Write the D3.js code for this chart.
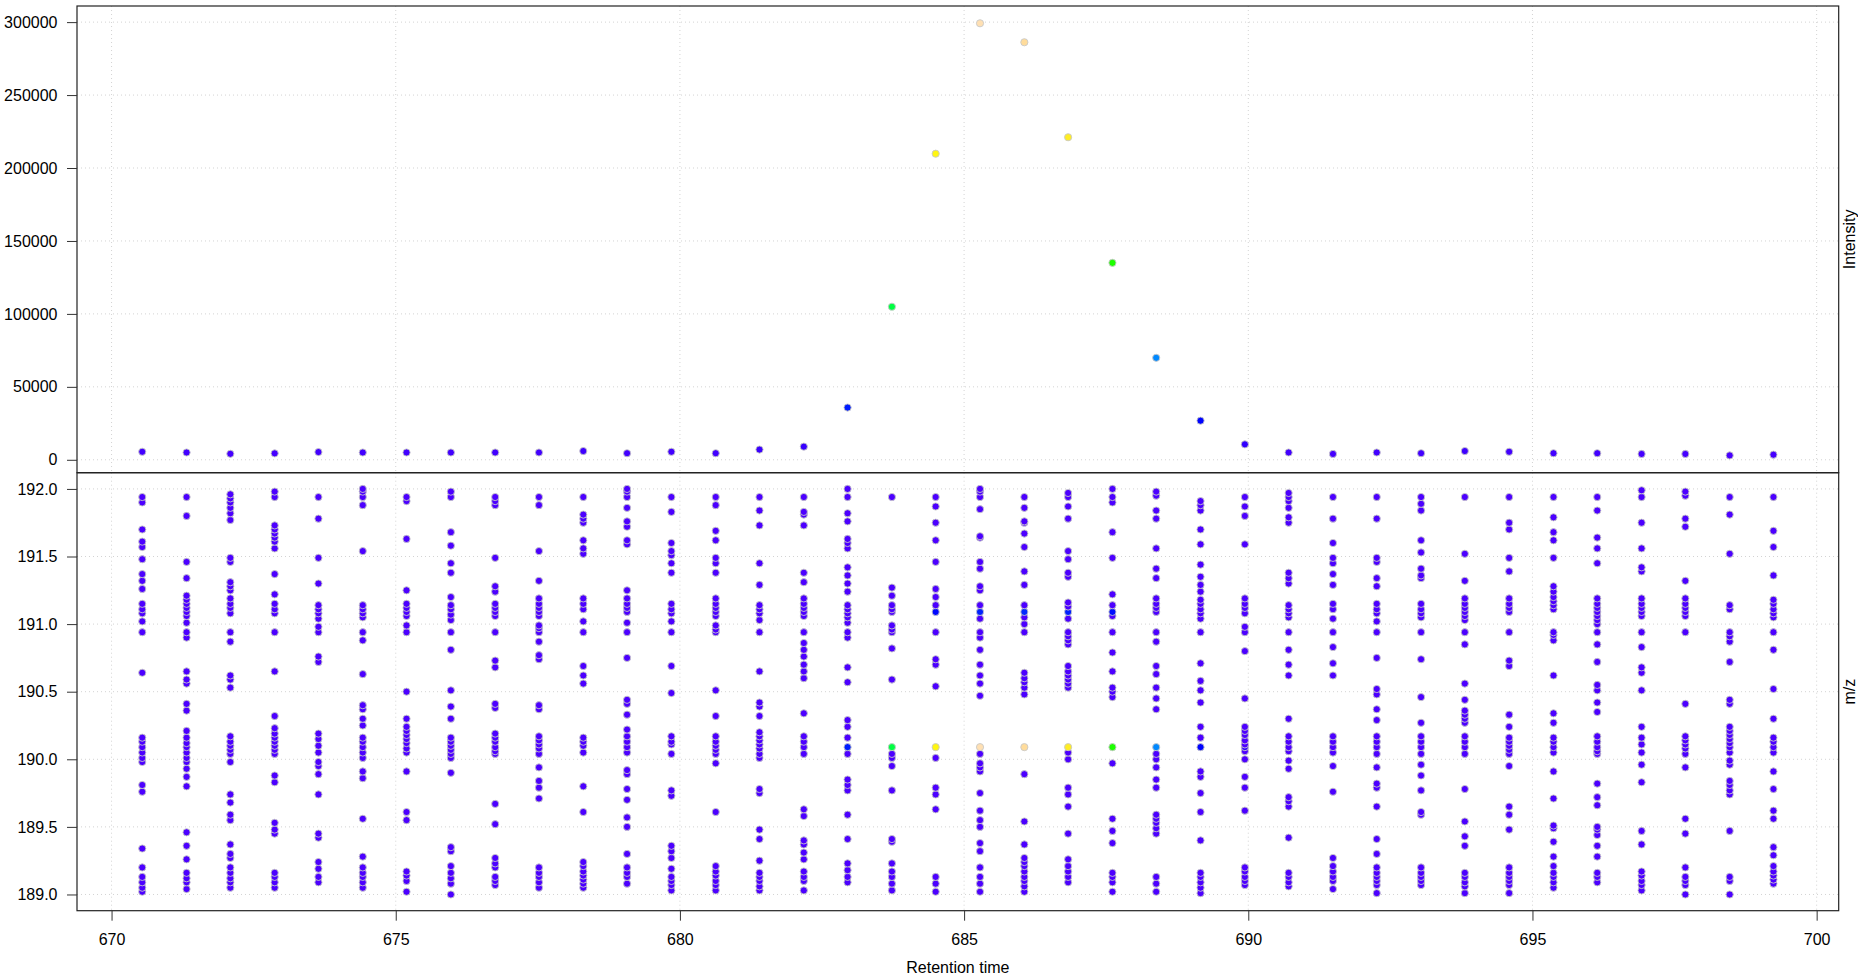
<!DOCTYPE html>
<html><head><meta charset="utf-8">
<script src="https://cdn.jsdelivr.net/npm/d3@7"></script>
<style>
body{margin:0;background:#fff}
text{font-family:"Liberation Sans",Arial,Helvetica,sans-serif;}
</style>
</head><body>
<svg id="chart" width="1858" height="978"></svg>
<script>
// ---------- DATA ----------
const rt = [670.54,671.32,672.09,672.87,673.64,674.42,675.19,675.97,676.75,677.52,678.30,679.07,679.85,680.63,681.40,682.18,682.95,683.73,684.50,685.28,686.06,686.83,687.61,688.38,689.16,689.94,690.71,691.49,692.26,693.04,693.81,694.59,695.37,696.14,696.92,697.69,698.47,699.24];

// base peak intensity per scan (upper panel)
const bpi = [5500,5000,4100,4400,5300,5000,5000,5000,5000,5000,6000,4500,5500,4500,7000,9000,35800,104900,209800,299200,286200,221100,135000,69900,26800,10600,5000,4000,5000,4500,6000,5500,4500,4500,4000,4000,3000,3500];

// peaks that stand out in colour in the lower panel
const peakScans = [16,17,18,19,20,21,22,23,24,25];
const peakMz    = [190.09,190.09,190.09,190.09,190.09,190.09,190.09,190.09,190.09,190.09];
const peakInt   = [35800,104900,209800,299200,286200,221100,135000,69900,26800,10600];
const secondScans = [18,19,20,21,22];
const secondMz    = [191.09,191.09,191.09,191.09,191.09];
const secondInt   = [28000,38000,40000,36000,31000];
// intensity of all remaining (low) peaks
const lowIntensity = 1000;

// m/z of the remaining peaks in each scan
const mzByScan = [
[191.94,191.90,191.70,191.61,191.57,191.48,191.37,191.32,191.26,191.15,191.11,191.08,191.02,190.94,190.64,190.16,190.13,190.09,190.05,190.01,189.98,189.81,189.76,189.34,189.20,189.13,189.09,189.05,189.02],
[191.94,191.80,191.46,191.34,191.21,191.18,191.15,191.12,191.09,191.06,191.01,190.94,190.90,190.65,190.59,190.56,190.41,190.36,190.21,190.16,190.12,190.09,190.05,190.01,189.98,189.93,189.87,189.80,189.46,189.36,189.26,189.16,189.12,189.09,189.04],
[191.96,191.93,191.90,191.86,191.82,191.77,191.49,191.46,191.31,191.28,191.25,191.19,191.15,191.12,191.08,190.94,190.87,190.62,190.59,190.53,190.17,190.13,190.10,190.07,190.04,189.98,189.74,189.68,189.59,189.55,189.37,189.30,189.27,189.20,189.16,189.12,189.09,189.05],
[191.98,191.94,191.73,191.70,191.67,191.64,191.61,191.56,191.37,191.22,191.15,191.11,191.08,190.94,190.65,190.32,190.23,190.19,190.16,190.13,190.10,190.07,190.04,189.88,189.83,189.53,189.48,189.45,189.16,189.13,189.09,189.05],
[191.94,191.78,191.49,191.30,191.14,191.11,191.08,191.04,190.98,190.94,190.76,190.72,190.19,190.15,190.10,190.05,189.98,189.95,189.89,189.74,189.45,189.42,189.24,189.19,189.13,189.09],
[192.00,191.98,191.94,191.88,191.54,191.14,191.11,191.08,191.05,190.94,190.88,190.63,190.40,190.37,190.30,190.25,190.16,190.13,190.09,190.05,190.01,189.91,189.86,189.56,189.28,189.20,189.16,189.13,189.09,189.05],
[191.94,191.91,191.63,191.25,191.15,191.12,191.09,191.06,190.99,190.94,190.50,190.30,190.24,190.21,190.18,190.15,190.12,190.08,190.05,189.91,189.61,189.55,189.17,189.14,189.10,189.02],
[191.98,191.94,191.68,191.58,191.45,191.38,191.20,191.14,191.11,191.07,191.03,190.94,190.81,190.51,190.39,190.30,190.16,190.13,190.10,190.07,190.04,190.01,189.90,189.35,189.32,189.21,189.16,189.12,189.08,189.00],
[191.94,191.91,191.88,191.49,191.28,191.24,191.15,191.12,191.09,191.06,190.94,190.73,190.68,190.41,190.38,190.19,190.16,190.13,190.09,190.06,190.04,189.67,189.52,189.27,189.23,189.20,189.13,189.10,189.07],
[191.94,191.88,191.54,191.32,191.19,191.15,191.12,191.09,191.06,190.99,190.97,190.94,190.87,190.77,190.74,190.40,190.37,190.17,190.14,190.11,190.08,190.04,189.94,189.84,189.79,189.71,189.20,189.16,189.13,189.09,189.05],
[191.94,191.81,191.78,191.75,191.62,191.56,191.52,191.19,191.15,191.11,191.02,190.94,190.69,190.62,190.56,190.16,190.13,190.10,190.05,189.80,189.61,189.24,189.21,189.17,189.14,189.11,189.08,189.05],
[192.00,191.98,191.94,191.86,191.76,191.72,191.62,191.59,191.25,191.19,191.15,191.12,191.09,191.01,190.94,190.75,190.44,190.41,190.33,190.22,190.17,190.13,190.09,190.05,189.92,189.89,189.78,189.70,189.57,189.50,189.30,189.20,189.16,189.13,189.08],
[191.94,191.83,191.60,191.54,191.51,191.45,191.38,191.15,191.11,191.08,191.02,190.94,190.69,190.49,190.17,190.13,190.11,190.04,189.77,189.73,189.36,189.32,189.27,189.19,189.13,189.10,189.07,189.03],
[191.94,191.88,191.69,191.62,191.49,191.45,191.38,191.19,191.15,191.12,191.09,191.06,190.99,190.96,190.94,190.51,190.32,190.17,190.13,190.10,190.07,190.04,189.97,189.61,189.21,189.17,189.14,189.10,189.07,189.03],
[191.94,191.84,191.73,191.45,191.29,191.14,191.11,191.08,191.03,190.94,190.65,190.42,190.39,190.32,190.20,190.17,190.14,190.11,190.08,190.04,190.01,189.78,189.75,189.48,189.41,189.25,189.16,189.13,189.10,189.06,189.03],
[191.94,191.83,191.81,191.73,191.38,191.31,191.19,191.15,191.12,191.09,191.06,190.94,190.86,190.81,190.76,190.70,190.65,190.60,190.34,190.17,190.13,190.09,190.04,189.63,189.58,189.40,189.37,189.31,189.26,189.17,189.13,189.10,189.03],
[192.00,191.94,191.82,191.76,191.63,191.60,191.56,191.42,191.36,191.30,191.24,191.14,191.11,191.08,191.05,191.01,190.94,190.90,190.68,190.57,190.29,190.24,190.16,190.04,189.85,189.81,189.77,189.59,189.41,189.23,189.18,189.13,189.09],
[191.94,191.27,191.21,191.14,191.11,191.09,190.99,190.96,190.94,190.82,190.59,190.04,190.01,189.95,189.77,189.41,189.39,189.23,189.17,189.13,189.08,189.03],
[191.94,191.87,191.75,191.62,191.46,191.26,191.20,191.14,190.94,190.74,190.70,190.54,190.01,189.79,189.74,189.63,189.13,189.08,189.02],
[192.00,191.98,191.94,191.85,191.65,191.64,191.46,191.41,191.28,191.25,191.14,191.04,190.94,190.90,190.81,190.70,190.62,190.56,190.47,190.04,189.97,189.94,189.91,189.75,189.62,189.55,189.50,189.38,189.32,189.20,189.13,189.08,189.02],
[191.94,191.86,191.76,191.75,191.67,191.57,191.39,191.29,191.14,191.05,191.00,190.94,190.64,190.60,190.57,190.53,190.48,189.89,189.54,189.37,189.27,189.24,189.21,189.17,189.13,189.10,189.06,189.02],
[191.97,191.94,191.87,191.78,191.54,191.48,191.38,191.35,191.16,191.13,191.04,190.94,190.91,190.88,190.85,190.69,190.65,190.62,190.59,190.56,190.53,190.05,190.00,189.79,189.74,189.65,189.45,189.26,189.21,189.17,189.13,189.09],
[192.00,191.94,191.90,191.68,191.49,191.22,191.14,191.06,190.94,190.79,190.65,190.53,190.50,190.46,189.97,189.56,189.47,189.38,189.16,189.13,189.09,189.02],
[191.98,191.95,191.84,191.78,191.56,191.41,191.34,191.19,191.15,191.12,191.09,190.94,190.87,190.69,190.63,190.53,190.45,190.37,190.04,190.00,189.94,189.85,189.79,189.59,189.56,189.53,189.49,189.45,189.13,189.08,189.02],
[191.91,191.88,191.84,191.70,191.59,191.44,191.35,191.29,191.24,191.18,191.15,191.11,191.08,191.04,190.94,190.71,190.58,190.51,190.42,190.24,190.16,189.91,189.87,189.75,189.61,189.40,189.16,189.13,189.09,189.05,189.01],
[191.94,191.87,191.80,191.59,191.19,191.15,191.12,191.08,190.98,190.94,190.80,190.45,190.24,190.21,190.18,190.14,190.11,190.06,190.00,189.87,189.79,189.62,189.20,189.17,189.13,189.10,189.07],
[191.97,191.94,191.91,191.86,191.79,191.75,191.38,191.34,191.30,191.14,191.11,191.08,191.05,190.94,190.81,190.70,190.62,190.30,190.17,190.13,190.09,190.06,189.99,189.93,189.72,189.69,189.65,189.42,189.16,189.13,189.09,189.06],
[191.94,191.78,191.60,191.49,191.45,191.37,191.29,191.15,191.11,191.04,190.94,190.83,190.71,190.62,190.17,190.13,190.09,190.05,189.95,189.76,189.27,189.21,189.17,189.13,189.10,189.04],
[191.94,191.78,191.49,191.46,191.34,191.28,191.15,191.11,191.08,191.02,190.94,190.75,190.52,190.48,190.37,190.29,190.17,190.13,190.09,190.04,189.94,189.82,189.79,189.65,189.41,189.30,189.20,189.16,189.13,189.10,189.07,189.01],
[191.94,191.89,191.84,191.62,191.53,191.41,191.36,191.34,191.15,191.11,191.08,191.05,190.94,190.74,190.46,190.27,190.17,190.13,190.09,190.04,189.96,189.88,189.77,189.61,189.59,189.20,189.16,189.13,189.10,189.07],
[191.94,191.52,191.32,191.19,191.15,191.12,191.09,191.06,191.03,190.94,190.85,190.56,190.44,190.36,190.33,190.30,190.27,190.17,190.13,190.09,190.04,189.78,189.54,189.43,189.36,189.16,189.13,189.09,189.06,189.01],
[191.94,191.75,191.70,191.49,191.39,191.19,191.15,191.12,191.09,190.94,190.73,190.69,190.33,190.24,190.16,190.13,190.10,190.07,190.04,189.95,189.65,189.59,189.48,189.20,189.16,189.13,189.10,189.07,189.01],
[191.94,191.79,191.68,191.62,191.49,191.28,191.24,191.20,191.17,191.14,191.11,190.94,190.92,190.88,190.62,190.34,190.27,190.16,190.13,190.09,190.05,189.91,189.71,189.51,189.49,189.39,189.28,189.21,189.16,189.13,189.09,189.05],
[191.94,191.84,191.64,191.56,191.45,191.19,191.15,191.12,191.09,191.06,191.03,191.00,190.94,190.85,190.72,190.55,190.51,190.42,190.35,190.17,190.13,190.09,190.06,190.04,189.82,189.72,189.66,189.50,189.48,189.44,189.36,189.28,189.16,189.13,189.09],
[191.99,191.94,191.75,191.56,191.42,191.39,191.19,191.15,191.12,191.09,191.06,190.94,190.83,190.68,190.64,190.51,190.24,190.16,190.11,190.05,189.96,189.83,189.47,189.37,189.17,189.14,189.10,189.07,189.03],
[191.98,191.95,191.78,191.72,191.32,191.19,191.15,191.12,191.09,191.06,190.94,190.41,190.17,190.14,190.11,190.08,190.04,189.94,189.56,189.45,189.20,189.13,189.10,189.07,189.00],
[191.94,191.81,191.52,191.14,191.11,190.94,190.91,190.87,190.72,190.44,190.41,190.24,190.21,190.18,190.15,190.12,190.09,190.05,189.99,189.96,189.84,189.81,189.77,189.74,189.47,189.13,189.10,189.00],
[191.94,191.69,191.57,191.36,191.18,191.15,191.11,191.08,191.05,190.94,190.81,190.52,190.30,190.16,190.13,190.09,190.05,189.91,189.78,189.62,189.56,189.35,189.29,189.21,189.17,189.14,189.11,189.08]
];

const xTicks = [670,675,680,685,690,695,700];
const intTicks = [0,50000,100000,150000,200000,250000,300000];
const mzTicks = [189.0,189.5,190.0,190.5,191.0,191.5,192.0];

// ---------- BUILD POINTS ----------
const points = [];
mzByScan.forEach((arr, s) => arr.forEach(mz => points.push({rt: rt[s], mz, i: lowIntensity})));
peakScans.forEach((s, k) => points.push({rt: rt[s], mz: peakMz[k], i: peakInt[k]}));
secondScans.forEach((s, k) => points.push({rt: rt[s], mz: secondMz[k], i: secondInt[k]}));
points.sort((a, b) => a.rt - b.rt || a.mz - b.mz);

// ---------- COLOURS (R topo.colors(256)) ----------
function hsv(h, s, v) {
  const i = Math.floor(h * 6), f = h * 6 - i;
  const p = v * (1 - s), q = v * (1 - f * s), t = v * (1 - (1 - f) * s);
  let r, g, b;
  switch (((i % 6) + 6) % 6) {
    case 0: r = v; g = t; b = p; break;
    case 1: r = q; g = v; b = p; break;
    case 2: r = p; g = v; b = t; break;
    case 3: r = p; g = q; b = v; break;
    case 4: r = t; g = p; b = v; break;
    default: r = v; g = p; b = q;
  }
  return d3.rgb(r * 255, g * 255, b * 255).formatHex();
}
function seq(a, b, n) { return d3.range(n).map(k => n === 1 ? a : a + (b - a) * k / (n - 1)); }
function topo(n) {
  const j = Math.floor(n / 3), k = Math.floor(n / 3), i = n - j - k;
  const out = [];
  seq(43/60, 31/60, i).forEach(h => out.push(hsv(h, 1, 1)));
  seq(23/60, 11/60, j).forEach(h => out.push(hsv(h, 1, 1)));
  const ss = seq(1, 0.3, k);
  seq(10/60, 6/60, k).forEach((h, q) => out.push(hsv(h, ss[q], 1)));
  return out;
}
const pal = topo(256);
const allI = points.map(p => p.i).concat(bpi);
const iMin = d3.min(allI), iMax = d3.max(allI);
function colOf(v) {
  let idx = Math.floor((v - iMin) / (iMax - iMin) * 256);
  idx = Math.max(0, Math.min(255, idx));
  return pal[idx];
}

// ---------- LAYOUT ----------
const L = 77, R = 1838.7, T1 = 6, B1 = 472.7, B2 = 910.7;
function pad(e) { const r = e[1] - e[0]; return [e[0] - 0.04 * r, e[1] + 0.04 * r]; }
const x = d3.scaleLinear().domain(pad(d3.extent(rt))).range([L, R]);
const y1 = d3.scaleLinear().domain(pad(d3.extent(bpi))).range([B1, T1]);
const y2 = d3.scaleLinear().domain(pad(d3.extent(points, p => p.mz))).range([B2, B1]);

const svg = d3.select("#chart");
const FS = 16;

function gridAndPoints(g, yScale, yTicks, top, bottom, data, yAcc) {
  const grid = g.append("g").attr("stroke", "#d3d3d3").attr("stroke-width", 1)
    .attr("stroke-dasharray", "1,3").attr("fill", "none");
  xTicks.forEach(t => grid.append("line").attr("x1", x(t)).attr("x2", x(t)).attr("y1", top).attr("y2", bottom));
  yTicks.forEach(t => grid.append("line").attr("x1", L).attr("x2", R).attr("y1", yScale(t)).attr("y2", yScale(t)));
  g.append("g").selectAll("circle").data(data).enter().append("circle")
    .attr("cx", d => x(d.rt)).attr("cy", yAcc)
    .attr("r", 3.6)
    .attr("fill", d => colOf(d.i))
    .attr("stroke", "#c8c8c8").attr("stroke-width", 0.9);
}

// upper panel
const gTop = svg.append("g");
gridAndPoints(gTop, y1, intTicks, T1, B1,
  bpi.map((v, s) => ({rt: rt[s], i: v})), d => y1(d.i));
// lower panel
const gBot = svg.append("g");
gridAndPoints(gBot, y2, mzTicks, B1, B2, points, d => y2(d.mz));

// boxes
svg.append("rect").attr("x", L).attr("y", T1).attr("width", R - L).attr("height", B1 - T1)
  .attr("fill", "none").attr("stroke", "#222").attr("stroke-width", 1.2);
svg.append("rect").attr("x", L).attr("y", B1).attr("width", R - L).attr("height", B2 - B1)
  .attr("fill", "none").attr("stroke", "#222").attr("stroke-width", 1.2);

// axes
function styleAxis(g) {
  g.select(".domain").remove();
  g.selectAll(".tick line").attr("stroke", "#333");
  g.selectAll(".tick text").attr("font-size", FS).attr("fill", "#000")
    .style("font-family", '"Liberation Sans",Arial,sans-serif');
}
svg.append("g").attr("transform", `translate(${L},0)`)
  .call(d3.axisLeft(y1).tickValues(intTicks).tickFormat(d3.format("d")).tickSize(10).tickPadding(9.5))
  .call(styleAxis);
svg.append("g").attr("transform", `translate(${L},0)`)
  .call(d3.axisLeft(y2).tickValues(mzTicks).tickFormat(d3.format(".1f")).tickSize(10).tickPadding(9.5))
  .call(styleAxis);
svg.append("g").attr("transform", `translate(0,${B2})`)
  .call(d3.axisBottom(x).tickValues(xTicks).tickFormat(d3.format("d")).tickSize(10).tickPadding(13))
  .call(styleAxis);

// labels
svg.append("text").attr("x", (L + R) / 2).attr("y", 973).attr("text-anchor", "middle")
  .attr("font-size", FS).text("Retention time");
svg.append("text").attr("transform", `translate(1854.5,${(T1 + B1) / 2}) rotate(-90)`)
  .attr("text-anchor", "middle").attr("font-size", FS).text("Intensity");
svg.append("text").attr("transform", `translate(1854.5,${(B1 + B2) / 2}) rotate(-90)`)
  .attr("text-anchor", "middle").attr("font-size", FS).text("m/z");
</script>
</body></html>
